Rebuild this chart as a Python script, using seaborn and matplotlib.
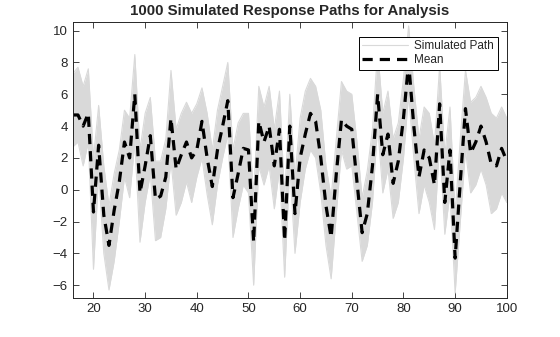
import seaborn as sns
import matplotlib.pyplot as plt
import pandas as pd

# time steps and mean response
steps = list(range(16, 101))
mean_path = [4.7, 4.7, 4.0, 4.8, -1.4, 2.8, -1.6, -3.5, -1.3, 0.5,
             3.0, 2.0, 6.0, -0.2, 1.5, 3.4, -0.6, -0.4, 0.8, 4.5,
             1.3, 2.2, 3.0, 2.0, 2.5, 4.3, 2.0, 0.2, 2.5, 4.0,
             5.6, -0.5, 1.0, 2.6, 2.5, -3.3, 4.3, 3.0, 4.0, 1.5,
             3.8, -3.2, 4.0, -1.5, 2.0, 3.5, 4.8, 4.3, 2.0, -1.0,
             -3.0, 1.0, 4.4, 4.0, 3.8, 0.5, -2.7, -1.5, 1.5, 6.0,
             2.2, 3.5, 0.4, 1.8, 4.5, 8.0, 4.0, 0.8, 2.5, 2.0,
             0.3, 5.4, -0.8, 2.5, -4.3, 0.5, 5.1, 2.3, 3.0, 4.0,
             3.0, 1.6, 1.5, 2.6, 1.8]
# spread of the 1000 simulated paths (min / max envelope)
path_upper = [7.3, 7.7, 6.5, 7.6, 2.0, 5.3, 1.5, -1.0, 1.0, 2.5,
              5.0, 4.5, 8.5, 2.5, 4.8, 5.8, 1.8, 1.8, 3.2, 7.5,
              3.8, 4.8, 5.5, 4.8, 5.4, 6.4, 4.8, 2.5, 5.0, 6.5,
              8.0, 2.5, 4.2, 4.8, 4.8, -0.5, 6.5, 5.2, 6.5, 3.8,
              6.2, -0.5, 6.0, 0.8, 4.5, 6.2, 7.0, 6.5, 5.0, 1.5,
              -0.5, 3.2, 6.8, 6.2, 6.0, 3.0, -0.5, 1.2, 3.8, 8.8,
              4.8, 6.2, 3.2, 4.2, 7.0, 10.3, 6.5, 3.2, 5.2, 4.8,
              2.8, 7.8, 2.2, 5.2, -1.5, 3.2, 7.5, 5.5, 5.8, 6.5,
              5.8, 4.8, 4.5, 5.2, 4.5]
path_lower = [2.7, 3.0, 1.5, 3.0, -5.0, 1.0, -4.0, -6.3, -4.5, -2.0,
              0.8, -0.5, 3.0, -3.3, -0.8, 1.0, -3.2, -3.0, -1.2, 1.8,
              -1.6, -0.8, 0.5, -0.8, 0.8, 2.0, -0.3, -2.2, 0.3, 2.0,
              3.5, -3.0, -1.2, 0.3, -0.2, -6.0, 1.5, 0.3, 1.5, -1.2,
              1.3, -5.5, 1.5, -4.0, -0.8, 1.3, 2.5, 2.0, -0.2, -3.5,
              -5.6, -1.5, 2.5, 1.3, 1.5, -1.5, -4.5, -3.5, -0.8, 4.0,
              -0.2, 1.3, -1.8, -0.8, 2.0, 6.0, 2.0, -1.5, 0.3, -0.8,
              -2.5, 3.0, -2.8, -0.2, -6.5, -2.0, 2.5, -0.2, 0.3, 1.3,
              0.3, -1.5, -1.2, -0.2, -0.8]

df = pd.DataFrame({"step": steps, "mean": mean_path,
                   "upper": path_upper, "lower": path_lower})

sns.set_style("white")
plt.rcParams["font.family"] = ["Liberation Sans", "DejaVu Sans"]
plt.rcParams["xtick.direction"] = "in"
plt.rcParams["ytick.direction"] = "in"

fig = plt.figure(figsize=(5.6, 3.37), dpi=100)
ax = fig.add_axes([0.130, 0.116, 0.775, 0.819])

path_color = "#d9d9d9"
ax.fill_between(df["step"], df["lower"], df["upper"], color=path_color, lw=0)
sns.lineplot(data=df, x="step", y="upper", ax=ax, color=path_color, lw=0.8,
             label="Simulated Path")
sns.lineplot(data=df, x="step", y="lower", ax=ax, color=path_color, lw=0.8)
sns.lineplot(data=df, x="step", y="mean", ax=ax, color="black", lw=2.3,
             label="Mean")
ax.lines[-1].set_dashes((3.2, 2.2))

ax.set_xlim(16, 100)
ax.set_ylim(-6.8, 10.55)
ax.set_xticks(range(20, 101, 10))
ax.set_yticks(range(-6, 11, 2))
ax.set_xlabel("")
ax.set_ylabel("")
ax.tick_params(labelsize=9.5, length=4, width=0.6, top=True, right=True,
               bottom=True, left=True, colors="#262626")
for s in ax.spines.values():
    s.set_visible(True)
    s.set_color("#262626")
    s.set_linewidth(0.7)
ax.set_title("1000 Simulated Response Paths for Analysis", fontsize=10.8,
             fontweight="bold", pad=5)

leg = ax.legend(loc="upper right", bbox_to_anchor=(0.979, 0.946),
                fontsize=8.5, frameon=True, fancybox=False,
                framealpha=1, edgecolor="black", handlelength=3.9,
                borderpad=0.3, labelspacing=0.15, borderaxespad=0,
                handletextpad=0.5)
leg.get_frame().set_linewidth(0.7)

plt.savefig("out.png", dpi=100)
